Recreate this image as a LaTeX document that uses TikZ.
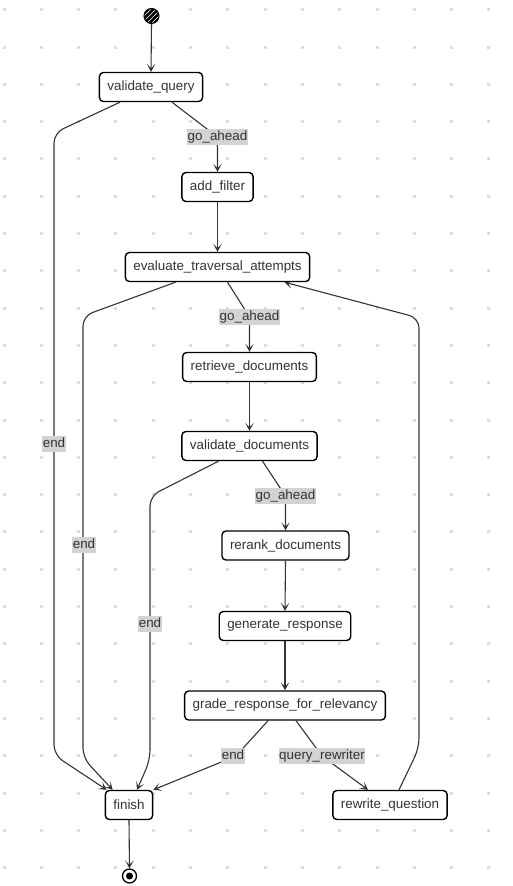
\documentclass[tikz,border=0pt]{standalone}
\usepackage{fontspec}
\setmainfont{Liberation Sans}
\usetikzlibrary{arrows.meta,calc}
\definecolor{txt}{HTML}{333333}
\definecolor{edgec}{HTML}{333333}
\definecolor{lblbg}{HTML}{D3D3D3}
\definecolor{dotc}{HTML}{DCDCDC}
\pgfdeclarelayer{bg}
\pgfdeclarelayer{edges}
\pgfsetlayers{bg,edges,main}
\begin{document}
\begin{tikzpicture}[x=1pt,y=-1pt,
  state/.style={draw=black, line width=1.4pt, fill=white, rounded corners=4pt,
    minimum height=29pt, inner xsep=8pt, inner ysep=0pt, text=txt,
    font=\fontsize{13.4}{15}\selectfont},
  elabel/.style={fill=lblbg, text=txt, inner xsep=0.5pt, inner ysep=1.5pt,
    text height=10pt, text depth=3.2pt, font=\fontsize{13.4}{15}\selectfont},
  edge/.style={draw=edgec, line width=1.1pt, rounded corners=10pt,
    -{Stealth[length=8pt,width=8.5pt,inset=4.5pt]}},
  startdot/.style={circle, draw=black, line width=1pt, minimum size=15pt, inner sep=0pt, fill=white},
  enddot/.style={circle, draw=black, line width=1.3pt, minimum size=14pt, inner sep=0pt, fill=white},
  enddotin/.style={circle, fill=black, minimum size=7pt, inner sep=0pt}
]
\useasboundingbox (0,0) rectangle (512,886);
\begin{pgfonlayer}{bg}
  \fill[white] (0,0) rectangle (512,886);
  \foreach \i in {0,...,13}{
    \foreach \j in {0,...,23}{
      \fill[dotc] ({4+37.3*\i-1.5},{9.7+37.3*\j-1.5}) rectangle ++(3,3);
    }
  }
\end{pgfonlayer}

% start / end
\node[startdot, path picture={
   \foreach \d in {-15,-10,...,15}
     \draw[black, line width=2.6pt] ([shift={(\d pt-10pt,-10pt)}]path picture bounding box.center) -- ++(20pt,20pt);
  }] (start) at (151.5,16) {};
\node[enddot] (endc) at (129.5,876) {};
\node[enddotin] (endin) at (endc.center) {};

% states
\node[state] (vq) at (151,87) {validate\_query};
\node[state] (af) at (217.5,187) {add\_filter};
\node[state] (ev) at (217.5,267) {evaluate\_traversal\_attempts};
\node[state] (rd) at (249.5,367) {retrieve\_documents};
\node[state] (vd) at (249.5,446) {validate\_documents};
\node[state] (rr) at (285.5,545.5) {rerank\_documents};
\node[state] (gr) at (285,626) {generate\_response};
\node[state] (gd) at (285,705.5) {grade\_response\_for\_relevancy};
\node[state] (fin) at (129,805) {finish};
\node[state] (rw) at (390,805) {rewrite\_question};

% edge labels
\node[elabel] (l1) at (217.5,137) {go\_ahead};
\node[elabel] (l2) at (54,444) {end};
\node[elabel] (l3) at (249.5,317) {go\_ahead};
\node[elabel] (l4) at (84,545) {end};
\node[elabel] (l5) at (285.5,496) {go\_ahead};
\node[elabel] (l6) at (150,624) {end};
\node[elabel] (l7) at (233,756) {end};
\node[elabel] (l8) at (322,756) {query\_rewriter};

\begin{pgfonlayer}{edges}
  \draw[edge] (start.south) -- (vq.north);
  \draw[edge] ([xshift=21pt]vq.south) -- (l1.center) -- (af.north);
  \draw[edge] ([xshift=-31pt]vq.south) -- (54,133) -- (l2.center) -- (54,755) -- ([xshift=2pt]fin.north west);
  \draw[edge] (af.south) -- (ev.north);
  \draw[edge] ([xshift=10pt]ev.south) -- (l3.center) -- (rd.north);
  \draw[edge] ([xshift=-42pt]ev.south) -- (83,316) -- (83,758) -- ([xshift=8pt]fin.north west);
  \draw[edge] (rd.south) -- (vd.north);
  \draw[edge] ([xshift=13pt]vd.south) -- (l5.center) -- (rr.north);
  \draw[edge] ([xshift=-31pt]vd.south) -- (150,496) -- (150,760) -- ([xshift=8pt]fin.north);
  \draw[edge] (rr.south) -- (gr.north);
  \draw[edge] (gr.south) -- (gd.north);
  \draw[edge] ([xshift=-17pt]gd.south) -- ([xshift=3pt]l7.center) -- (fin.north east);
  \draw[edge] ([xshift=11pt]gd.south) -- (l8.center) -- ([xshift=-22pt]rw.north);
  \draw[edge] ([xshift=9pt]rw.north) -- (419,748) -- (419,318) -- ([xshift=67pt]ev.south);
  \draw[edge] (fin.south) -- (endc.north);
\end{pgfonlayer}
\end{tikzpicture}
\end{document}
